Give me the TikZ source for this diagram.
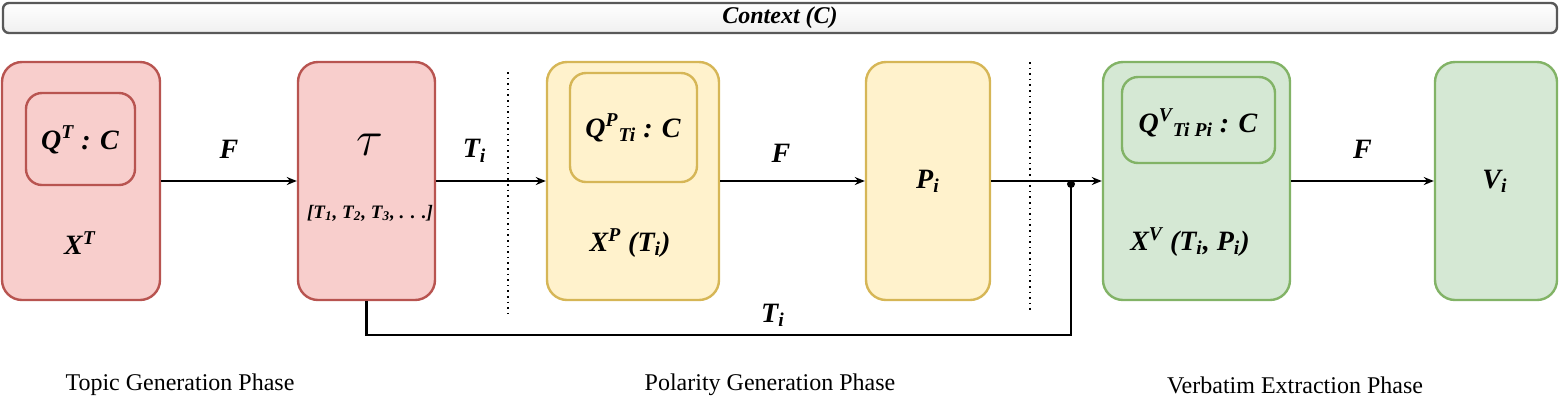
\documentclass[tikz,border=0pt]{standalone}
\usepackage{fontspec}
\setmainfont{Liberation Serif}
\usetikzlibrary{arrows.meta,calc}
\definecolor{rf}{HTML}{F8CECC}\definecolor{rs}{HTML}{B85450}
\definecolor{yf}{HTML}{FFF2CC}\definecolor{ys}{HTML}{D6B656}
\definecolor{gf}{HTML}{D5E8D4}\definecolor{gs}{HTML}{82B366}
\begin{document}
\begin{tikzpicture}[x=0.5pt,y=-0.5pt,
 box/.style={draw=#1s,fill=#1f,line width=1.2pt,rounded corners=10pt},
 lab/.style={font=\fontsize{14}{16}\selectfont\bfseries\itshape,inner sep=1pt},
 phase/.style={font=\fontsize{12}{14}\selectfont},
 arr/.style={-{Stealth[length=5pt,width=4pt]},line width=0.8pt},
 dots/.style={dotted,line width=0.8pt}]
\useasboundingbox (0,0) rectangle (1560,403);
\node[draw=black!65,line width=1.2pt,rounded corners=3pt,top color=white,bottom color=black!6,minimum width=777pt,minimum height=15pt,inner sep=0pt,font=\fontsize{12}{14}\selectfont\bfseries\itshape] (ctx) at (780,18) {Context (C)};
\node[box=r,minimum width=79pt,minimum height=119pt] (b1) at (81,181) {};
\node[box=r,minimum width=54.5pt,minimum height=46pt,rounded corners=8pt] (i1) at (80.5,139) {};
\node[lab] at (80,140) {Q\textsuperscript{T} : C};
\node[lab] at (80,243) {X\textsuperscript{T}};
\node[box=r,minimum width=68.5pt,minimum height=119pt] (b2) at (366.5,181) {};
\node[inner sep=0pt,font=\fontsize{38}{38}\selectfont] at (370,145) {$\tau$};
\node[font=\fontsize{9.5}{12}\selectfont\itshape\bfseries] at (370,213) {[T\textsubscript{1}, T\textsubscript{2}, T\textsubscript{3}, . . .]};
\node[box=y,minimum width=86pt,minimum height=119pt] (b3) at (633,181) {};
\node[box=y,minimum width=63.5pt,minimum height=54.5pt,rounded corners=8pt] (i3) at (633.5,127.5) {};
\node[lab] at (633,128) {Q\textsuperscript{P}\textsubscript{Ti} : C};
\node[lab] at (630,243) {X\textsuperscript{P} (T\textsubscript{i})};
\node[box=y,minimum width=62pt,minimum height=119pt] (b4) at (928,181) {};
\node[lab] at (928,181) {P\textsubscript{i}};
\node[box=g,minimum width=93.5pt,minimum height=119pt] (b5) at (1196.5,181) {};
\node[box=g,minimum width=76.5pt,minimum height=43pt,rounded corners=8pt] (i5) at (1198.5,120) {};
\node[lab] at (1198,123) {Q\textsuperscript{V}\textsubscript{Ti Pi} : C};
\node[lab] at (1190,242) {X\textsuperscript{V} (T\textsubscript{i}, P\textsubscript{i})};
\node[box=g,minimum width=61pt,minimum height=119pt] (b6) at (1496,181) {};
\node[lab] at (1495,181) {V\textsubscript{i}};
\draw[dots] (508,72) -- (508,318);
\draw[dots] (1030,62) -- (1030,312);
\draw[arr] (b1.east) -- node[lab,above=10pt]{F} (b2.west);
\draw[arr] (b2.east) -- node[lab,above=8pt,pos=0.35]{T\textsubscript{i}} (b3.west);
\draw[arr] (b3.east) -- node[lab,above=8pt,pos=0.42]{F} (b4.west);
\draw[arr] (b4.east) -- (b5.west);
\draw[arr] (b5.east) -- node[lab,above=10pt]{F} (b6.west);
\coordinate (j) at (1071,184);
\draw[line width=1.2pt] (b2.south) -- ++(0,34) -| (j);
\fill (j) circle (2pt);
\node[lab] at (773,315) {T\textsubscript{i}};
\node[phase] at (180,385) {Topic Generation Phase};
\node[phase] at (770,385) {Polarity Generation Phase};
\node[phase] at (1295,385) {Verbatim Extraction Phase};
\end{tikzpicture}
\end{document}
